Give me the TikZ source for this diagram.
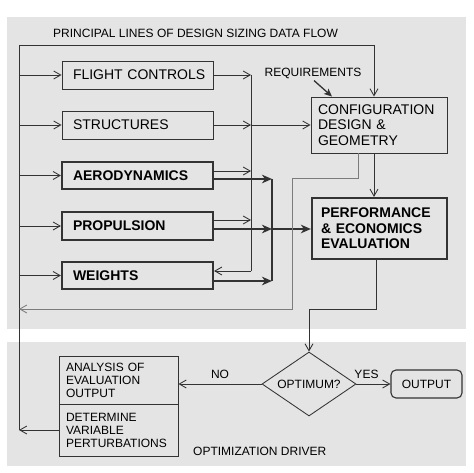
\documentclass[tikz,border=0pt]{standalone}
\usepackage{fontspec}
\setmainfont{Liberation Sans}
\usetikzlibrary{arrows.meta,shapes.geometric}
\definecolor{panel}{HTML}{E4E4E4}
\definecolor{ink}{HTML}{333333}
\definecolor{faint}{HTML}{7C7C7C}
\tikzset{
  big/.style={font=\fontsize{14}{15.5}\selectfont},
  bigb/.style={font=\fontsize{14}{15.5}\selectfont\bfseries},
  small/.style={font=\fontsize{12}{13}\selectfont},
  box/.style={draw=ink, line width=0.9pt, fill=panel, rectangle, inner xsep=11pt, inner ysep=0pt, align=left, text width=129pt, minimum height=28pt},
  tbox/.style={box, line width=2.2pt},
  ln/.style={draw=ink, line width=0.85pt},
  arr/.style={ln, -{Straight Barb[length=7pt,width=8pt]}},
  garr/.style={draw=faint, line width=0.85pt, -{Straight Barb[length=7pt,width=8pt]}},
  tln/.style={draw=ink, line width=2.2pt},
  tarr/.style={tln, -{Stealth[length=10pt,width=8.5pt,inset=3pt]}},
  rarr/.style={draw=ink, line width=1.3pt, -{Stealth[length=8pt,width=7pt,inset=2pt]}},
  dia/.style={diamond, draw=ink, line width=0.85pt, fill=panel, inner sep=0pt, aspect=1.47, minimum width=94pt, minimum height=64pt},
  rbox/.style={draw=ink, line width=1.1pt, fill=panel, rectangle, rounded corners=5pt, minimum width=71pt, minimum height=28pt, inner sep=0pt}
}
\begin{document}
\begin{tikzpicture}[x=1pt,y=-1pt]
\useasboundingbox (0,0) rectangle (474,473);
\fill[white] (0,0) rectangle (474,473);
\fill[panel] (7,17) rectangle (466,329);
\fill[panel] (7,342) rectangle (466,466);

\node[small, anchor=west, inner sep=0pt] (title) at (53,33) {PRINCIPAL LINES OF DESIGN SIZING DATA FLOW};

% left boxes
\node[box, big]  (fc) at (137.5,75)    {\mbox{FLIGHT CONTROLS}};
\node[box, big]  (st) at (137.5,125)   {STRUCTURES};
\node[tbox, bigb, minimum height=27pt] (ae) at (137.5,175.5) {AERODYNAMICS};
\node[tbox, bigb] (pr) at (137.5,226)  {PROPULSION};
\node[tbox, bigb, minimum height=27pt] (we) at (137.5,275.5) {WEIGHTS};

% right boxes
\node[box, big, text width=122pt, inner xsep=7pt, minimum height=56pt] (cfg) at (379,125) {CONFIGURATION\\DESIGN \&\\GEOMETRY};
\node[tbox, bigb, text width=117pt, inner xsep=9pt, minimum height=61pt] (perf) at (379.5,228.5) {PERFORMANCE\\\& ECONOMICS\\EVALUATION};

\node[small, inner sep=0pt] (req) at (313,73) {REQUIREMENTS};

% optimization driver
\node[box, small, text width=105pt, inner xsep=7pt, minimum height=48pt] (an1) at (118.5,380) {ANALYSIS OF\\EVALUATION\\OUTPUT};
\node[box, small, text width=105pt, inner xsep=7pt, minimum height=52pt] (an2) at (118.5,430) {DETERMINE\\VARIABLE\\PERTURBATIONS};
\node[dia, small] (dia) at (309,384) {OPTIMUM?};
\node[rbox, small] (out) at (426.5,384) {OUTPUT};
\node[small, inner sep=0pt] (yes) at (366.5,374.5) {YES};
\node[small, inner sep=0pt] (no) at (220,374.5) {NO};
\node[small, anchor=west, inner sep=0pt] (drv) at (193,451) {OPTIMIZATION DRIVER};

% coordinates
\coordinate (busL) at (19,45);
\coordinate (tr) at (374,45);
\coordinate (busR) at (251,74);
\coordinate (busT) at (272,179);
\coordinate (ae1) at ([yshift=4.5pt]ae.east);
\coordinate (ae2) at ([yshift=-3.5pt]ae.east);
\coordinate (pr1) at ([yshift=6pt]pr.east);
\coordinate (pr2) at ([yshift=-3pt]pr.east);
\coordinate (we1) at ([yshift=4.5pt]we.east);
\coordinate (we2) at ([yshift=-5.5pt]we.east);
\coordinate (g1) at (358,178);
\coordinate (g2) at (292,178);
\coordinate (g3) at (292,309);
\coordinate (p1) at (376,309);
\coordinate (p2) at (309,309);
\coordinate (rq) at (332,97);

% main loop
\draw[arr] (an2.west) -- (an2.west -| busL);
\draw[ln] (an2.west -| busL) -- (busL) -- (tr);
\draw[arr] (tr) -- (tr |- cfg.north);
\draw[arr] (fc.west -| busL) -- (fc.west);
\draw[arr] (st.west -| busL) -- (st.west);
\draw[arr] (ae.west -| busL) -- (ae.west);
\draw[arr] (pr.west -| busL) -- (pr.west);
\draw[arr] (we.west -| busL) -- (we.west);

% thin right bus
\draw[ln] (fc.east -| busR) -- (we1 -| busR);
\draw[arr] (fc.east) -- (fc.east -| busR);
\draw[arr] (st.east) -- (st.east -| busR);
\draw[arr] (st.east -| busR) -- (cfg.west);
\draw[arr] (ae1) -- (ae1 -| busR);
\draw[arr] (pr1) -- (pr1 -| busR);
\draw[arr] (we1 -| busR) -- (we1);

% thick bus
\draw[tln] (ae2 -| busT) -- (we2 -| busT);
\draw[tarr] (ae2) -- (ae2 -| busT);
\draw[tarr] (pr2) -- (pr2 -| busT);
\draw[tarr] (we2) -- (we2 -| busT);
\draw[tarr] (pr2 -| busT) -- (pr2 -| perf.west);

% config
\draw[rarr] ([xshift=1pt,yshift=-2pt]req.south) -- (rq |- cfg.north);
\draw[arr] (tr |- cfg.south) -- (tr |- perf.north);
\draw[garr] (g1 |- cfg.south) -- (g1) -- (g2) -- (g3) -- (g3 -| busL);

% performance output
\draw[arr] (p1 |- perf.south) -- (p1) -- (p2) -- (dia.north);
\draw[arr] (dia.east) -- (out.west);
\draw[arr] (dia.west) -- (dia.west -| an1.east);
\end{tikzpicture}
\end{document}
